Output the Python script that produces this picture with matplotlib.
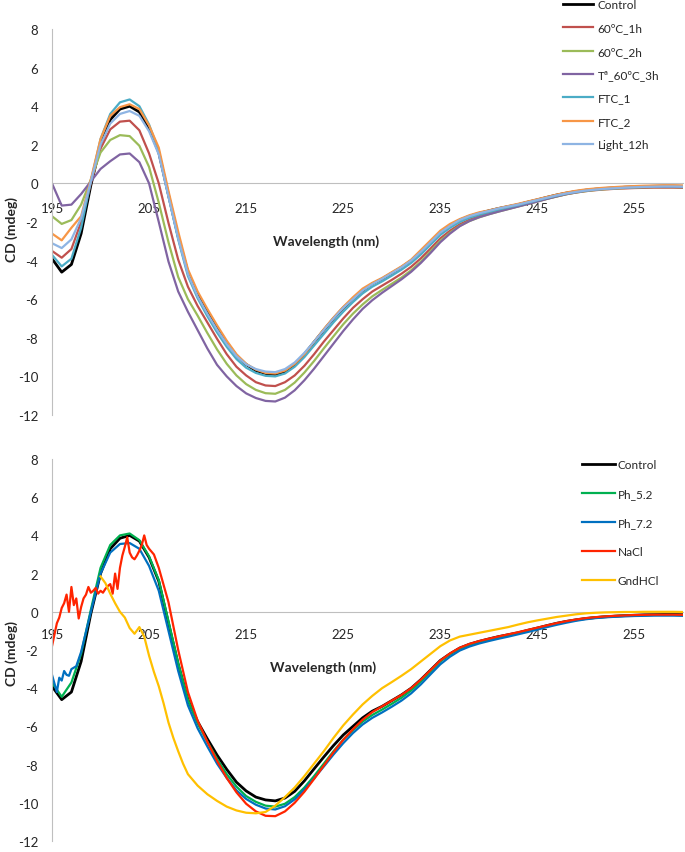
import matplotlib
matplotlib.use("Agg")
import matplotlib.pyplot as plt

plt.rcParams['font.family'] = ['Lato', 'DejaVu Sans']
plt.rcParams['axes.unicode_minus'] = False

# wavelength grid (nm) shared by most spectra
wavelength = list(range(195, 261))

# ---- top panel: thermal / freeze-thaw / light treatments ----
control = [
    -3.9, -4.6, -4.2, -2.6, -0.1, 2.0, 3.3, 3.85, 4.0, 3.7,
    2.85, 1.6, -0.6, -2.75, -4.6, -5.75, -6.65, -7.5, -8.25, -8.92,
    -9.38, -9.7, -9.85, -9.9, -9.75, -9.4, -8.85, -8.22, -7.6, -7.0,
    -6.45, -6.0, -5.55, -5.2, -4.95, -4.65, -4.35, -4.0, -3.55, -3.05,
    -2.55, -2.2, -1.9, -1.7, -1.55, -1.42, -1.3, -1.2, -1.1, -0.97,
    -0.85, -0.72, -0.6, -0.5, -0.42, -0.35, -0.3, -0.26, -0.23, -0.2,
    -0.18, -0.16, -0.15, -0.14, -0.14, -0.15]
heat_1h = [
    -3.5, -3.85, -3.4, -2.0, 0.0, 1.8, 2.8, 3.2, 3.25, 2.75,
    1.55, 0.0, -2.05, -3.95, -5.35, -6.35, -7.2, -8.05, -8.85, -9.5,
    -9.95, -10.3, -10.47, -10.5, -10.3, -9.95, -9.45, -8.85, -8.2, -7.6,
    -7.0, -6.45, -6.0, -5.6, -5.3, -5.0, -4.68, -4.32, -3.88, -3.37,
    -2.85, -2.45, -2.12, -1.88, -1.7, -1.55, -1.42, -1.3, -1.18, -1.05,
    -0.92, -0.79, -0.67, -0.56, -0.47, -0.4, -0.35, -0.31, -0.28, -0.26,
    -0.24, -0.23, -0.22, -0.22, -0.22, -0.23]
heat_2h = [
    -1.7, -2.1, -1.9, -1.1, 0.2, 1.6, 2.25, 2.5, 2.45, 1.95,
    0.85, -1.0, -3.05, -4.85, -6.0, -6.85, -7.75, -8.6, -9.35, -9.95,
    -10.4, -10.7, -10.87, -10.9, -10.7, -10.32, -9.8, -9.2, -8.55, -7.92,
    -7.3, -6.75, -6.27, -5.85, -5.52, -5.2, -4.88, -4.5, -4.05, -3.52,
    -2.98, -2.55, -2.2, -1.95, -1.76, -1.6, -1.46, -1.33, -1.2, -1.07,
    -0.94, -0.8, -0.68, -0.56, -0.47, -0.4, -0.34, -0.3, -0.27, -0.24,
    -0.22, -0.2, -0.19, -0.19, -0.19, -0.2]
heat_3h = [
    0.0, -1.15, -1.1, -0.55, 0.1, 0.75, 1.15, 1.5, 1.55, 1.1,
    0.0, -2.0, -4.05, -5.6, -6.65, -7.6, -8.55, -9.4, -10.0, -10.5,
    -10.88, -11.12, -11.27, -11.3, -11.1, -10.72, -10.2, -9.6, -8.95, -8.3,
    -7.65, -7.05, -6.5, -6.05, -5.67, -5.32, -4.97, -4.58, -4.12, -3.6,
    -3.05, -2.6, -2.22, -1.95, -1.75, -1.6, -1.46, -1.33, -1.2, -1.07,
    -0.94, -0.8, -0.67, -0.55, -0.46, -0.38, -0.32, -0.28, -0.25, -0.22,
    -0.2, -0.19, -0.18, -0.18, -0.18, -0.19]
ftc_1 = [
    -3.7, -4.3, -3.9, -2.3, 0.1, 2.3, 3.6, 4.2, 4.35, 4.0,
    3.05, 1.7, -0.65, -2.9, -4.8, -5.95, -6.88, -7.72, -8.47, -9.1,
    -9.55, -9.82, -9.97, -10.0, -9.85, -9.5, -9.0, -8.4, -7.8, -7.2,
    -6.65, -6.15, -5.7, -5.35, -5.08, -4.78, -4.47, -4.12, -3.68, -3.17,
    -2.67, -2.3, -2.0, -1.78, -1.62, -1.48, -1.35, -1.24, -1.13, -1.0,
    -0.88, -0.75, -0.63, -0.52, -0.43, -0.36, -0.3, -0.26, -0.23, -0.2,
    -0.18, -0.16, -0.15, -0.15, -0.15, -0.16]
ftc_2 = [
    -2.6, -2.95, -2.3, -1.7, 0.2, 2.3, 3.5, 3.95, 4.1, 3.85,
    3.0, 1.85, -0.4, -2.5, -4.45, -5.6, -6.5, -7.35, -8.15, -8.85,
    -9.35, -9.65, -9.82, -9.85, -9.7, -9.35, -8.85, -8.2, -7.55, -6.95,
    -6.4, -5.9, -5.45, -5.15, -4.9, -4.6, -4.3, -3.95, -3.45, -2.95,
    -2.45, -2.1, -1.85, -1.65, -1.5, -1.4, -1.28, -1.17, -1.06, -0.94,
    -0.82, -0.7, -0.58, -0.47, -0.38, -0.31, -0.26, -0.22, -0.19, -0.16,
    -0.14, -0.12, -0.11, -0.1, -0.1, -0.11]
light_12h = [
    -3.1, -3.35, -2.9, -1.8, 0.1, 2.0, 3.1, 3.6, 3.75, 3.5,
    2.7, 1.5, -0.7, -2.85, -4.7, -5.85, -6.75, -7.58, -8.32, -8.95,
    -9.38, -9.62, -9.75, -9.78, -9.62, -9.28, -8.78, -8.2, -7.6, -7.0,
    -6.45, -6.0, -5.55, -5.22, -4.95, -4.65, -4.35, -4.0, -3.55, -3.05,
    -2.55, -2.2, -1.9, -1.7, -1.55, -1.43, -1.3, -1.2, -1.1, -0.98,
    -0.86, -0.74, -0.62, -0.52, -0.44, -0.37, -0.32, -0.28, -0.25, -0.22,
    -0.2, -0.18, -0.17, -0.16, -0.16, -0.17]

top_labels = ["Control", "60ºC_1h", "60ºC_2h", "Tª_60ºC_3h", "FTC_1", "FTC_2", "Light_12h"]
top_colors = ["#000000", "#C0504D", "#9BBB59", "#8064A2", "#4BACC6", "#F79646", "#8EB4E3"]

# ---- bottom panel: pH / salt / denaturant ----
ph_52 = [
    -3.7, -4.45, -3.7, -2.2, 0.1, 2.3, 3.5, 4.0, 4.1, 3.75,
    2.9, 1.65, -0.5, -2.7, -4.6, -5.85, -6.8, -7.7, -8.5, -9.15,
    -9.65, -9.95, -10.15, -10.2, -10.05, -9.7, -9.2, -8.6, -7.95, -7.3,
    -6.7, -6.2, -5.75, -5.4, -5.12, -4.82, -4.5, -4.12, -3.65, -3.12,
    -2.6, -2.22, -1.92, -1.72, -1.57, -1.45, -1.33, -1.22, -1.11, -0.99,
    -0.87, -0.74, -0.62, -0.51, -0.42, -0.35, -0.29, -0.25, -0.22, -0.2,
    -0.18, -0.17, -0.16, -0.16, -0.16, -0.17]

ph_72_wl = [195, 195.25, 195.5, 195.75, 196, 196.25, 196.5, 196.75, 197, 197.5, 198] + list(range(199, 261))
ph_72 = [
    -3.3, -3.75, -4.2, -3.45, -3.6, -3.1, -3.3, -3.35, -3.0, -2.85, -2.1,
    0.0, 2.0, 3.1, 3.55, 3.6, 3.3,
    2.4, 1.1, -1.0, -3.1, -4.9, -6.1, -7.05, -7.95, -8.7, -9.35,
    -9.8, -10.1, -10.3, -10.35, -10.18, -9.82, -9.3, -8.72, -8.1, -7.47,
    -6.88, -6.35, -5.9, -5.55, -5.27, -4.97, -4.65, -4.27, -3.8, -3.27,
    -2.75, -2.35, -2.03, -1.82, -1.66, -1.53, -1.41, -1.3, -1.18, -1.06,
    -0.93, -0.8, -0.68, -0.57, -0.47, -0.39, -0.33, -0.29, -0.26, -0.24,
    -0.22, -0.21, -0.2, -0.2, -0.2, -0.21]

nacl_wl = [195, 195.25, 195.5, 195.75, 196, 196.25, 196.5, 196.75, 197, 197.25,
           197.5, 197.75, 198, 198.25, 198.5, 198.75, 199, 199.25, 199.5, 199.75,
           200, 200.25, 200.5, 200.75, 201, 201.25, 201.5, 201.75, 202, 202.25,
           202.5, 202.75, 203, 203.25, 203.5, 203.75, 204, 204.25, 204.5, 204.75,
           205, 205.5, 206, 206.5, 207] + list(range(208, 261))
nacl = [
    -1.8, -1.2, -0.6, -0.3, 0.2, 0.45, 0.9, 0.0, 1.3, 0.35,
    0.7, -0.35, 0.25, 0.7, 0.9, 1.3, 1.0, 1.1, 1.25, 0.95,
    1.1, 1.0, 1.2, 1.35, 1.45, 0.95, 2.0, 1.2, 2.3, 2.95,
    3.4, 3.9, 3.1, 2.85, 2.75, 2.95, 3.2, 3.5, 4.0, 3.5,
    3.3, 3.0, 2.3, 1.4, 0.5,
    -2.0, -4.2, -5.7, -6.8, -7.8, -8.7, -9.45,
    -10.05, -10.45, -10.68, -10.7, -10.45, -10.0, -9.42, -8.75, -8.05, -7.35,
    -6.7, -6.15, -5.65, -5.25, -4.95, -4.65, -4.35, -4.0, -3.55, -3.05,
    -2.55, -2.18, -1.88, -1.68, -1.53, -1.41, -1.29, -1.18, -1.07, -0.95,
    -0.83, -0.71, -0.59, -0.49, -0.4, -0.33, -0.28, -0.24, -0.21, -0.19,
    -0.17, -0.16, -0.15, -0.15, -0.15, -0.16]

gnd_wl = [200, 200.5, 201, 201.5, 202, 202.5, 203, 203.5, 204, 204.5,
          205, 205.5, 206, 206.5, 207, 207.5, 208, 208.5, 209] + list(range(210, 261))
gnd_hcl = [
    1.85, 1.5, 0.95, 0.45, 0.0, -0.3, -0.85, -1.15, -0.8, -1.3,
    -2.3, -3.15, -3.9, -4.8, -5.8, -6.6, -7.3, -7.95, -8.5,
    -9.1, -9.55, -9.9, -10.2, -10.4, -10.52, -10.55, -10.48, -10.15, -9.7,
    -9.2, -8.6, -7.95, -7.3, -6.6, -5.95, -5.38, -4.85, -4.4, -4.0,
    -3.68, -3.35, -3.0, -2.6, -2.2, -1.8, -1.5, -1.3, -1.2, -1.1,
    -1.0, -0.9, -0.8, -0.67, -0.55, -0.45, -0.36, -0.27, -0.2, -0.13,
    -0.08, -0.05, -0.03, -0.02, -0.01, -0.01, 0.0, 0.0, 0.0, 0.0, -0.01]

x_ticks = [195, 205, 215, 225, 235, 245, 255]
y_ticks = list(range(-12, 9, 2))
axis_grey = "#BFBFBF"
text_col = "#262626"


def style_axes(ax, xpad):
    ax.set_xlim(195, 260)
    ax.set_ylim(-12, 8)
    ax.set_xticks(x_ticks)
    ax.set_yticks(y_ticks)
    for side in ["top", "right"]:
        ax.spines[side].set_visible(False)
    ax.spines["bottom"].set_position(("data", 0))
    ax.spines["bottom"].set_color(axis_grey)
    ax.spines["left"].set_color(axis_grey)
    ax.spines["bottom"].set_zorder(0.5)
    ax.tick_params(axis="both", length=0, labelsize=9.5, labelcolor=text_col)
    ax.tick_params(axis="x", pad=xpad)
    ax.tick_params(axis="y", pad=10)
    ax.patch.set_alpha(0)


fig = plt.figure(figsize=(6.85, 8.53), dpi=100)
ax_top = fig.add_axes([52 / 685, 1 - 416 / 853, 631 / 685, 386 / 853])
ax_bot = fig.add_axes([52 / 685, 1 - 842 / 853, 631 / 685, 382 / 853])

# top chart
top_series = [control, heat_1h, heat_2h, heat_3h, ftc_1, ftc_2, light_12h]
for vals, lab, col in zip(top_series, top_labels, top_colors):
    lw = 2.0 if lab == "Control" else 1.6
    ax_top.plot(wavelength, vals, color=col, lw=lw, label=lab)
style_axes(ax_top, 13.5)
ax_top.legend(loc="upper left", bbox_to_anchor=(563 / 685, 1.0), bbox_transform=fig.transFigure,
              frameon=False, fontsize=8.5, handlelength=2.55, handletextpad=0.4,
              labelspacing=1.05, borderpad=0, borderaxespad=0, labelcolor=text_col)

# bottom chart
ax_bot.plot(wavelength, control, color="#000000", lw=2.0, label="Control")
ax_bot.plot(wavelength, ph_52, color="#00B050", lw=1.6, label="Ph_5.2")
ax_bot.plot(ph_72_wl, ph_72, color="#0070C0", lw=1.6, label="Ph_7.2")
ax_bot.plot(nacl_wl, nacl, color="#FF2400", lw=1.6, label="NaCl")
ax_bot.plot(gnd_wl, gnd_hcl, color="#FFC000", lw=1.6, label="GndHCl")
style_axes(ax_bot, 11.5)
ax_bot.legend(loc="upper left", bbox_to_anchor=(582 / 685, 1 - 460 / 853), bbox_transform=fig.transFigure,
              frameon=False, fontsize=8.5, handlelength=2.8, handletextpad=0.2,
              labelspacing=1.53, borderpad=0, borderaxespad=0, labelcolor=text_col)

# axis titles sit inside the plot area, Excel style
fig.text(326 / 685, 1 - 242 / 853, "Wavelength (nm)", ha="center", va="center",
         fontsize=10, fontweight="bold", color=text_col)
fig.text(323 / 685, 1 - 668 / 853, "Wavelength (nm)", ha="center", va="center",
         fontsize=10, fontweight="bold", color=text_col)
fig.text(12 / 685, 1 - 230 / 853, "CD (mdeg)", ha="center", va="center", rotation=90,
         fontsize=10, fontweight="bold", color=text_col)
fig.text(12 / 685, 1 - 653 / 853, "CD (mdeg)", ha="center", va="center", rotation=90,
         fontsize=10, fontweight="bold", color=text_col)

fig.savefig("out.png", dpi=100)
